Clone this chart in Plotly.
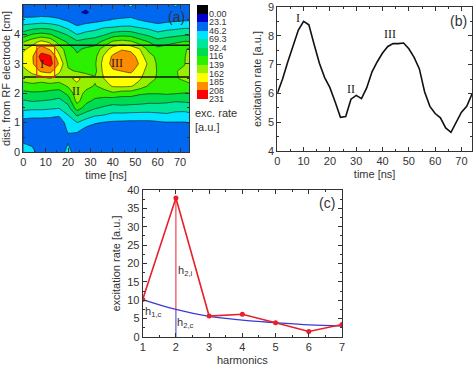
import plotly.graph_objects as go

W, H = 474, 368

# ---------- data ----------
level_labels = ["0.00", "23.1", "46.2", "69.3", "92.4", "116", "139", "162", "185", "208", "231"]
level_values = [0, 23.1, 46.2, 69.3, 92.4, 115.5, 138.6, 161.7, 184.8, 207.9, 231.0]
band_colors = ["#000000", "#0000c8", "#0068f0", "#00e4ff", "#00e69a", "#00dc50",
               "#2cf000", "#96f000", "#ffff00", "#ff8c00", "#ff0000"]

map_time = [0, 4, 8, 12, 16, 20, 24, 28, 32, 36, 40, 44, 48, 52, 56, 60, 64, 68, 72, 74]
map_dist = [0, .25, .5, .75, 1, 1.25, 1.5, 1.75, 2, 2.25, 2.5, 2.75, 3, 3.25, 3.5, 3.75, 4, 4.25, 4.5, 4.75, 5]
map_columns = [
    [80, 72, 58, 55, 60, 78, 100, 114, 132, 152, 170, 178, 190, 192, 180, 160, 125, 100, 75, 58, 55],
    [78, 66, 55, 55, 58, 76, 98, 118, 135, 155, 175, 190, 205, 205, 195, 175, 140, 105, 75, 58, 55],
    [52, 52, 55, 55, 58, 76, 98, 116, 135, 152, 172, 212, 228, 240, 220, 190, 145, 108, 78, 58, 55],
    [55, 55, 55, 55, 57, 75, 96, 114, 132, 150, 185, 215, 240, 235, 205, 180, 140, 106, 76, 58, 55],
    [55, 58, 52, 55, 55, 72, 94, 110, 128, 150, 175, 188, 205, 190, 175, 150, 125, 98, 72, 56, 55],
    [78, 70, 66, 72, 80, 92, 108, 125, 145, 165, 180, 165, 158, 150, 148, 135, 112, 85, 65, 52, 52],
    [55, 55, 58, 75, 92, 118, 150, 170, 175, 180, 190, 160, 150, 142, 135, 120, 92, 72, 58, 50, 52],
    [52, 50, 52, 62, 80, 105, 130, 145, 155, 170, 175, 155, 158, 152, 142, 125, 100, 78, 60, 42, 55],
    [50, 50, 52, 55, 72, 95, 118, 135, 148, 160, 165, 155, 158, 155, 148, 128, 105, 82, 62, 55, 55],
    [50, 52, 50, 55, 68, 92, 112, 130, 150, 172, 185, 192, 195, 188, 172, 145, 112, 90, 65, 58, 55],
    [52, 52, 50, 52, 66, 85, 108, 125, 158, 188, 192, 205, 215, 212, 195, 165, 125, 92, 70, 58, 60],
    [52, 52, 52, 55, 65, 85, 110, 125, 150, 190, 195, 208, 222, 225, 205, 170, 130, 95, 72, 58, 55],
    [52, 52, 52, 55, 64, 84, 108, 125, 150, 188, 195, 212, 225, 222, 200, 165, 128, 95, 74, 58, 75],
    [52, 52, 52, 55, 64, 84, 106, 125, 142, 175, 188, 195, 205, 195, 185, 150, 118, 90, 68, 55, 52],
    [52, 52, 52, 55, 64, 84, 105, 122, 140, 160, 168, 175, 180, 172, 155, 138, 110, 85, 62, 55, 55],
    [52, 52, 52, 55, 66, 86, 105, 122, 140, 158, 160, 160, 158, 155, 145, 125, 100, 78, 60, 52, 52],
    [52, 52, 52, 55, 68, 88, 106, 120, 142, 160, 160, 155, 150, 148, 150, 130, 105, 82, 62, 52, 52],
    [52, 52, 52, 55, 68, 84, 102, 118, 140, 158, 160, 160, 155, 155, 155, 135, 108, 85, 64, 52, 75],
    [55, 52, 52, 55, 68, 85, 100, 120, 138, 155, 165, 168, 160, 158, 158, 140, 112, 88, 66, 55, 55],
    [62, 52, 52, 55, 70, 88, 100, 122, 138, 155, 172, 175, 178, 178, 165, 140, 112, 88, 66, 55, 55],
]
band_edges_dist = [2.55, 3.63]
band_time = [0, 74]
box_time = [6, 14, 14, 6, 6]
box_dist = [2.55, 2.55, 3.6, 3.6, 2.55]

rate_time = list(range(0, 76, 2))
rate_values = [6.0, 6.5, 7.1, 7.65, 8.2, 8.5, 8.38, 7.7, 7.05, 6.55, 6.2, 5.7, 5.17, 5.2, 5.8, 5.93, 5.82, 6.2, 6.75,
               7.1, 7.4, 7.63, 7.73, 7.73, 7.75, 7.55, 7.25, 6.85, 6.05, 5.55, 5.3, 5.15, 4.8, 4.65, 5.0, 5.35, 5.55, 5.98]

harmonics = [1, 2, 3, 4, 5, 6, 7]
harm_total = [10.2, 37.8, 5.7, 6.2, 3.9, 1.5, 3.4]
harm_cont = [10.2, 7.5, 5.6, 4.6, 3.9, 3.3, 3.0]

# ---------- helpers ----------
DARK = "#333333"
FONT = "Liberation Sans"
RED = "#e8202a"
BLUE = "#3a3ad8"


def dom_x(a, b):
    return [a / W, b / W]


def dom_y(top, bottom):
    return [1 - bottom / H, 1 - top / H]


def axis(dom, rng, dtick, minor, title, anchor, standoff=4):
    return dict(domain=dom, range=rng, dtick=dtick, anchor=anchor, showgrid=False, zeroline=False,
                automargin=False,
                showline=True, linecolor=DARK, linewidth=1, mirror="allticks", ticks="inside", ticklen=4,
                tickwidth=1, tickcolor=DARK, tickfont=dict(size=11, color=DARK, family=FONT),
                minor=dict(dtick=minor, ticks="inside", ticklen=2, tickcolor=DARK, showgrid=False),
                title=dict(text=title, font=dict(size=11, color=DARK, family=FONT), standoff=standoff))


fig = go.Figure()

# (a) contour map: with zmin/zmax set, plotly samples the scale at the middle of each level band
n = len(band_colors)
contour_scale = [[0, band_colors[0]]]
for i in range(n - 1):
    contour_scale.append([(i + 0.5) / (n - 1), band_colors[i]])
contour_scale.append([1, band_colors[-1]])
map_z = [list(row) for row in zip(*map_columns)]
fig.add_trace(go.Contour(x=map_time, y=map_dist, z=map_z, xaxis="x", yaxis="y", zmin=0, zmax=231,
                         colorscale=contour_scale, showscale=False, autocontour=False, hoverinfo="skip",
                         contours=dict(start=0, end=231, size=23.1, coloring="fill"),
                         line=dict(color="#111111", width=0.6, smoothing=0.2)))
for d in band_edges_dist:
    fig.add_trace(go.Scatter(x=band_time, y=[d, d], mode="lines", xaxis="x", yaxis="y",
                             line=dict(color="#111111", width=1.6)))
fig.add_trace(go.Scatter(x=box_time, y=box_dist, mode="lines", xaxis="x", yaxis="y",
                         line=dict(color="#e0301e", width=1.2)))

# colour key
key_top = 254.1
key_scale = []
for i, c in enumerate(band_colors):
    key_scale += [[i / n, c], [(i + 1) / n, c]]
fig.add_trace(go.Heatmap(z=[[v + 11.5] for v in level_values], x=[0], y0=0.5, dy=1, xaxis="x4", yaxis="y4",
                         zmin=0, zmax=key_top, colorscale=key_scale, showscale=False, hoverinfo="skip"))

# (b) rate
fig.add_trace(go.Scatter(x=rate_time, y=rate_values, mode="lines", xaxis="x2", yaxis="y2",
                         line=dict(color="#111111", width=1.6)))

# (c) harmonics
fig.add_trace(go.Scatter(x=harmonics, y=harm_cont, mode="lines", xaxis="x3", yaxis="y3",
                         line=dict(color=BLUE, width=1.3, shape="spline")))
fig.add_trace(go.Scatter(x=harmonics, y=harm_total, mode="lines+markers", xaxis="x3", yaxis="y3",
                         line=dict(color=RED, width=1.6), marker=dict(color=RED, size=5)))
fig.add_trace(go.Scatter(x=[harmonics[1]] * 2, y=[harm_cont[1], harm_total[1]], mode="lines", xaxis="x3", yaxis="y3",
                         line=dict(color=RED, width=1)))
fig.add_trace(go.Scatter(x=[harmonics[1]] * 2, y=[0, harm_cont[1]], mode="lines", xaxis="x3", yaxis="y3",
                         line=dict(color=BLUE, width=1)))


def note(text, x, y, ax, ay, size=11, family=FONT, color=DARK):
    return dict(text=text, x=x, y=y, xref=ax, yref=ay, showarrow=False,
                font=dict(size=size, family=family, color=color))


SERIF = "Liberation Serif"
annotations = [
    note("(a)", 68.4, 4.6, "x", "y", 14),
    note("I", 8.2, 3.0, "x", "y", 12, SERIF, "#222222"),
    note("II", 23.5, 2.08, "x", "y", 12, SERIF, "#222222"),
    note("III", 41.9, 3.02, "x", "y", 12, SERIF, "#222222"),
    note("(b)", 68.7, 8.52, "x2", "y2", 14),
    note("I", 8, 8.61, "x2", "y2", 12, SERIF, "#222222"),
    note("II", 28, 6.15, "x2", "y2", 12, SERIF, "#222222"),
    note("III", 42.8, 8.08, "x2", "y2", 12, SERIF, "#222222"),
    note("(c)", 6.54, 36.5, "x3", "y3", 14),
    note("h<sub>2,i</sub>", 2.3, 17.9, "x3", "y3", 11),
    note("h<sub>2,c</sub>", 2.3, 3.8, "x3", "y3", 11),
    note("h<sub>1,c</sub>", 1.33, 6.9, "x3", "y3", 11),
    dict(text="exc. rate<br>[a.u.]", x=193 / W, y=1 - 105 / H, xref="paper", yref="paper", xanchor="left",
         yanchor="top", align="left", showarrow=False, font=dict(size=11, family=FONT, color=DARK)),
]

fig.update_layout(
    width=W, height=H, margin=dict(l=0, r=0, t=0, b=0, autoexpand=False), paper_bgcolor="white", plot_bgcolor="white",
    showlegend=False, annotations=annotations,
    xaxis=axis(dom_x(23.3, 189), [0, 74], 10, 5, "time [ns]", "y"),
    yaxis=axis(dom_y(5, 152), [0, 5], 1, 0.5, "dist. from RF electrode [cm]", "x"),
    xaxis2=axis(dom_x(277.3, 472), [0, 74], 10, 5, "time [ns]", "y2"),
    yaxis2=axis(dom_y(7, 151), [4, 9], 1, 0.5, "excitation rate [a.u.]", "x2"),
    xaxis3=axis(dom_x(142.7, 342), [1, 7], 1, 0.5, "harmonics", "y3"),
    yaxis3=axis(dom_y(190, 337), [0, 40], 5, 2.5, "excitation rate [a.u.]", "x3"),
    xaxis4=dict(domain=dom_x(197, 208), anchor="y4", showticklabels=False, ticks="", showgrid=False,
                zeroline=False, automargin=False),
    yaxis4=dict(domain=dom_y(5, 99), anchor="x4", side="right", range=[11, 0], tickmode="array", automargin=False,
                tickvals=list(range(1, 12)), ticktext=level_labels, ticks="", showgrid=False, zeroline=False,
                tickfont=dict(size=9, color=DARK, family=FONT)),
)

fig.write_html("out.html", post_script="document.body.style.margin='0';", config={"displayModeBar": False})
